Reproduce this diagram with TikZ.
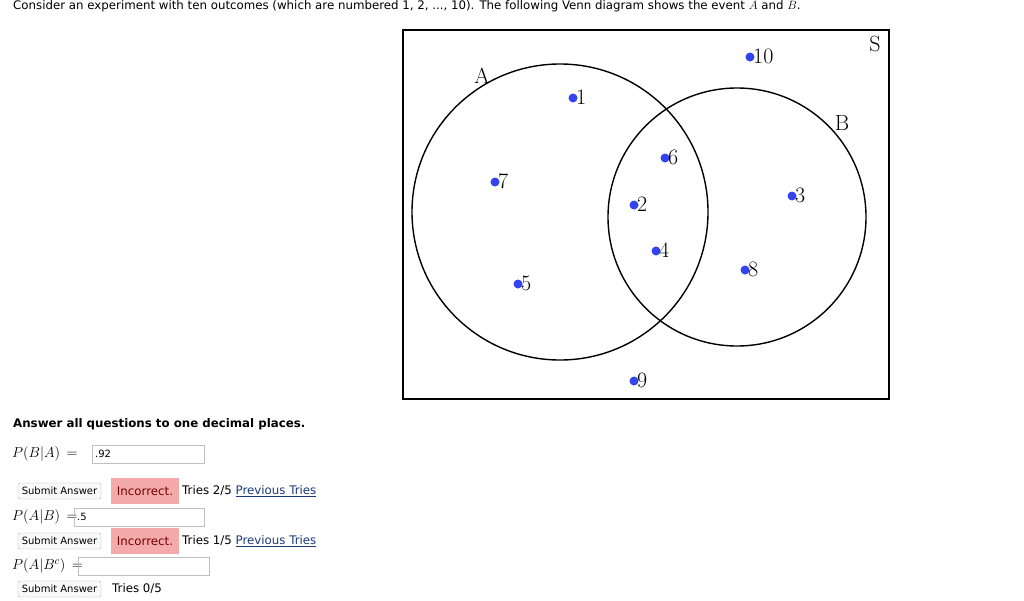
\documentclass[tikz,border=0pt]{standalone}
\usepackage{fontspec}
\newfontfamily\vf{DejaVu Sans}
\definecolor{dotc}{HTML}{3344EE}
\definecolor{badc}{HTML}{F4AAAA}
\definecolor{linkc}{HTML}{1A3A7A}
\tikzset{
 dot/.style={circle,fill=dotc,inner sep=0pt,minimum size=9pt},
 num/.style={font=\fontsize{22}{22}\selectfont,inner sep=0pt,anchor=west},
 web/.style={font=\vf\fontsize{11.8}{12}\selectfont,inner sep=0pt,anchor=west},
 btn/.style={draw=gray!60,rounded corners=2pt,fill=gray!5,font=\vf\fontsize{10}{10}\selectfont,minimum width=83pt,minimum height=16pt,inner sep=0pt},
 bad/.style={fill=badc,text=red!45!black,font=\vf\fontsize{11.8}{12}\selectfont,minimum width=68pt,minimum height=26pt,inner sep=0pt},
 inp/.style={draw=gray!50,anchor=west,font=\vf\fontsize{10}{10}\selectfont,inner sep=3pt,text depth=0pt,minimum height=18pt,align=left,text width=#1},
 math/.style={font=\fontsize{15}{15}\selectfont,inner sep=0pt,anchor=west}
}
\begin{document}
\begin{tikzpicture}[x=1pt,y=-1pt]
\useasboundingbox[fill=white] (0,0) rectangle (1024,600);
\node[web] (t) at (13,6) {Consider an experiment with ten outcomes (which are numbered 1, 2, ..., 10). The following Venn diagram shows the event $A$ and $B$.};
\draw[line width=1.8pt] (403,30) rectangle (889,399);
\draw[line width=1.4pt] (560,212) circle (148);
\draw[line width=1.4pt] (737,217) circle (129);
\node[font=\fontsize{22}{22}\selectfont] (sA) at (482,76) {A};
\node[font=\fontsize{22}{22}\selectfont] (sB) at (842,123) {B};
\node[font=\fontsize{22}{22}\selectfont] (sS) at (875,44) {S};
\foreach \n/\x/\y in {10/750/57,1/573/98,6/665/158,7/495/182,2/634/205,3/792/196,4/656/251,8/745/270,5/518/284,9/634/381}{
 \node[dot] (d\n) at (\x,\y) {};
 \node[num] (l\n) at (\x+3,\y-1) {\n};
}
\node[web,font=\vf\bfseries\fontsize{11.8}{12}\selectfont] (q) at (13,424) {Answer all questions to one decimal places.};
\node[math] (m1) at (12,454) {$P(B|A)\,=$};
\node[inp=106pt] (i1) at (92,454) {.92};
\node[btn] (b1) at (59.5,491) {Submit Answer};
\node[bad] (r1) at (145,491) {Incorrect.};
\node[web] (tr1) at (182,491) {Tries 2/5 \textcolor{linkc}{\underline{Previous Tries}}};
\node[math] (m2) at (12,517) {$P(A|B)\,=$};
\node[inp=124pt] (i2) at (74,517) {.5};
\node[btn] (b2) at (59.5,541) {Submit Answer};
\node[bad] (r2) at (145,541) {Incorrect.};
\node[web] (tr2) at (182,541) {Tries 1/5 \textcolor{linkc}{\underline{Previous Tries}}};
\node[math] (m3) at (12,566) {$P(A|B^c)\,=$};
\node[inp=125pt] (i3) at (78,566) {};
\node[btn] (b3) at (59.5,589) {Submit Answer};
\node[web] (tr3) at (112,589) {Tries 0/5};
\end{tikzpicture}
\end{document}
